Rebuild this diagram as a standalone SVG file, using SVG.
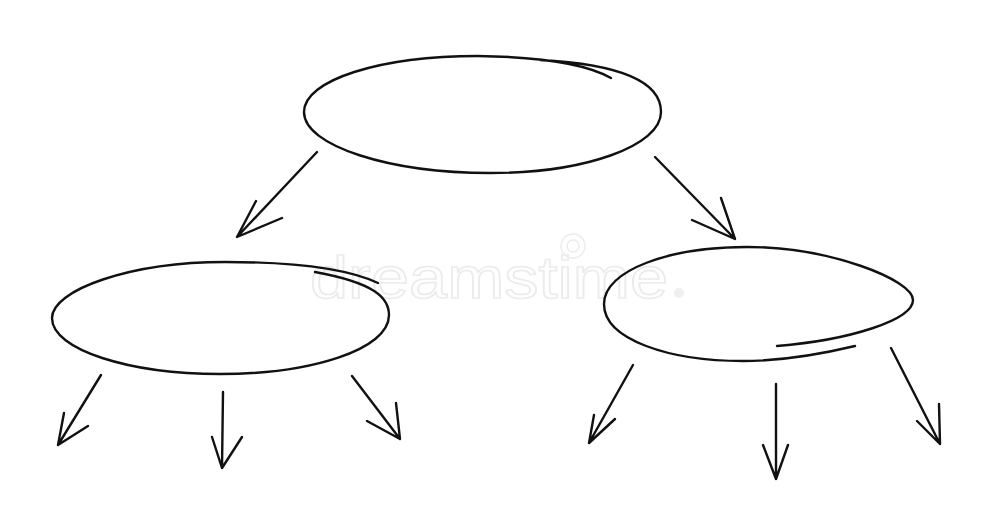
<svg xmlns="http://www.w3.org/2000/svg" width="992" height="527" viewBox="0 0 992 527">
<style>
.ink{fill:none;stroke:#111;stroke-width:2.4;stroke-linecap:round;stroke-linejoin:round}
.wm{font-family:"Liberation Sans",Arial,sans-serif;font-size:60px;fill:#fff;stroke:#ebebeb;stroke-width:1.6}
</style>
<rect width="992" height="527" fill="#fff"/>
<g id="watermark">
<text class="wm" x="310" y="298" textLength="358" lengthAdjust="spacingAndGlyphs">dreamstime</text>
<circle cx="573" cy="246" r="12" fill="none" stroke="#ececec" stroke-width="1.5"/>
<circle cx="573" cy="246" r="6" fill="none" stroke="#ececec" stroke-width="1.5"/>
<circle cx="679" cy="293" r="5" fill="#efefef"/>
</g>
<g id="node-top">
<path class="ink" d="M611,78 C590,66 550,57 478,56 C380,56 304,80 304,112 C304,146 390,173 490,173 C585,173 661,146 661,112 C661,80 615,64 540,60"/>
</g>
<g id="node-left">
<path class="ink" d="M378,283 C350,270 300,262 225,262 C130,262 52,290 52,318 C52,350 130,374 220,374 C310,374 389,350 389,315 C389,298 375,283 315,272"/>
</g>
<g id="node-right">
<path class="ink" d="M777,346 C850,340 913,320 913,300 C913,280 830,247 747,247 C670,247 604,270 604,304 C604,340 670,361 743,361 C790,361 830,352 855,346"/>
</g>
<g id="connectors">
<path class="ink" d="M317,152 L237,237 M256,201 L237,237 L282,218"/>
<path class="ink" d="M655,157 L735,239 M721,198 L735,239 L692,220"/>
<path class="ink" d="M101,375 L58,445 M64,413 L58,445 L88,426"/>
<path class="ink" d="M223,392 L222,468 M212,437 L222,468 L242,437"/>
<path class="ink" d="M352,376 L400,439 M396,403 L400,439 L367,421"/>
<path class="ink" d="M633,365 L589,443 M594,415 L589,443 L615,419"/>
<path class="ink" d="M776,384 L776,479 M763,445 L776,479 L788,445"/>
<path class="ink" d="M891,348 L940,444 M939,404 L940,444 L917,421"/>
</g>
</svg>
